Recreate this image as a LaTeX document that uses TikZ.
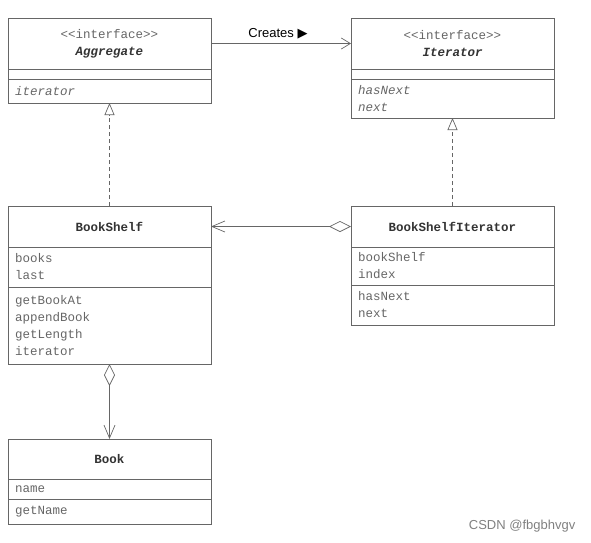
\documentclass[tikz,border=0pt]{standalone}
\usepackage{fontspec}
\setmonofont{Liberation Mono}
\setsansfont{Liberation Sans}
\newfontfamily\symfont{DejaVu Sans}
\usetikzlibrary{arrows.meta,positioning}

\definecolor{linegray}{HTML}{666666}
\definecolor{textgray}{HTML}{666666}
\definecolor{namegray}{HTML}{333333}

\begin{document}
\begin{tikzpicture}[x=1pt, y=1pt, line width=0.7pt,
        cls/.style={draw=linegray, minimum width=203pt, text width=189pt, inner xsep=7pt, inner ysep=0pt, outer sep=0pt,
          font=\fontsize{12.5}{17}\selectfont\ttfamily, text=textgray},
        head/.style={cls, align=center},
        part/.style={cls, align=left},
        assoc/.style={draw=linegray, -{Straight Barb[length=9pt, width=11pt]}},
        realize/.style={draw=linegray, dash pattern=on 4pt off 3pt, -{Triangle[open, length=12pt, width=10pt, fill=white]}},
        aggr/.style={draw=linegray, {Diamond[open, length=22pt, width=11pt, fill=white]}-{Straight Barb[length=13pt, width=11pt]}}
      ]
      \useasboundingbox (0,0) rectangle (591,-542);

      % interfaces
      \node[head, minimum height=51pt, anchor=north west] (aggHead) at (8,-18)
        {<<interface>>\\ \textcolor{namegray}{\bfseries\itshape Aggregate}};
      \node[part, minimum height=10pt, below=0pt of aggHead] (aggAttr) {};
      \node[part, minimum height=24pt, below=0pt of aggAttr] (aggMeth) {\itshape iterator};

      \node[head, minimum height=51pt, anchor=north west] (itHead) at (351,-18)
        {<<interface>>\\ \textcolor{namegray}{\bfseries\itshape Iterator}};
      \node[part, minimum height=10pt, below=0pt of itHead] (itAttr) {};
      \node[part, minimum height=39pt, below=0pt of itAttr] (itMeth) {\itshape hasNext\\ next};

      % classes
      \node[head, minimum height=41pt, anchor=north west] (bsHead) at (8,-206)
        {\textcolor{namegray}{\bfseries BookShelf}};
      \node[part, minimum height=40pt, below=0pt of bsHead] (bsAttr) {books\\ last};
      \node[part, minimum height=77pt, below=0pt of bsAttr] (bsMeth) {getBookAt\\ appendBook\\ getLength\\ iterator};

      \node[head, minimum height=41pt, anchor=north west] (bsiHead) at (351,-206)
        {\textcolor{namegray}{\bfseries BookShelfIterator}};
      \node[part, minimum height=38pt, below=0pt of bsiHead] (bsiAttr) {bookShelf\\ index};
      \node[part, minimum height=40pt, below=0pt of bsiAttr] (bsiMeth) {hasNext\\ next};

      \node[head, minimum height=40pt, anchor=north west] (bookHead) at (8,-439)
        {\textcolor{namegray}{\bfseries Book}};
      \node[part, minimum height=20pt, below=0pt of bookHead] (bookAttr) {name};
      \node[part, minimum height=25pt, below=0pt of bookAttr] (bookMeth) {getName};

      % relations
      \draw[assoc] (aggHead) -- node[above=1pt, xshift=-3pt, text=black, font=\fontsize{13}{15}\selectfont\sffamily]
        (createsLabel) {Creates {\symfont\fontsize{13}{15}\selectfont▶}} (itHead);
      \draw[realize] (bsHead.north) -- (aggMeth.south);
      \draw[realize] (bsiHead.north) -- (itMeth.south);
      \draw[aggr] (bsiHead.west) -- (bsHead.east);
      \draw[aggr] (bsMeth.south) -- (bookHead.north);

      \node[anchor=east, text=gray, font=\fontsize{13}{15}\selectfont\sffamily] (watermark) at (579,-526) {CSDN @fbgbhvgv};
    \end{tikzpicture}
\end{document}
